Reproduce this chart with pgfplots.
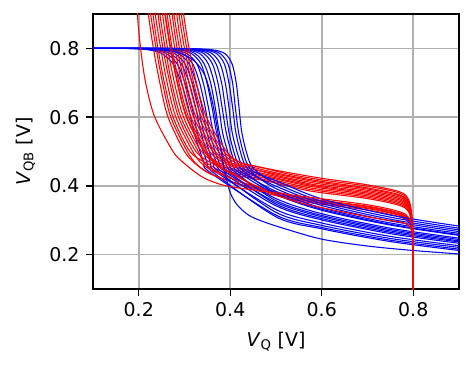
\documentclass[border=0pt]{standalone}
\usepackage{fontspec}
\setmainfont{DejaVu Sans}
\usepackage{pgfplots}
\pgfplotsset{compat=1.18}
\begin{document}
\fontsize{14.2}{17}\selectfont
\begin{tikzpicture}
\path[use as bounding box] (-69.75pt,-58.5pt) rectangle (285.75pt,216.75pt);
\begin{axis}[
  at={(0,0)}, anchor=south west,
  scale only axis, width=274.5pt, height=206.25pt,
  xmin=0.1, xmax=0.9, ymin=0.1, ymax=0.9,
  xtick={0.2,0.4,0.6,0.8}, ytick={0.2,0.4,0.6,0.8},
  xticklabels={0.2,0.4,0.6,0.8}, yticklabels={0.2,0.4,0.6,0.8},
  tick pos=left, tick align=outside, major tick length=5pt,
  grid=major, grid style={color=black!31, line width=1.2pt},
  axis line style={line width=1.1pt, black},
  every tick/.style={line width=1.1pt, black},
  xticklabel style={inner sep=0pt, anchor=north, yshift=-5pt},
  yticklabel style={inner sep=0pt, anchor=east, xshift=-5pt},
  xlabel={\textit{V}\textsubscript{Q} [V]},
  ylabel={\textit{V}\textsubscript{QB} [V]},
  xlabel style={at={(axis description cs:0.5,0)}, anchor=base, yshift=-43pt, inner sep=0pt},
  ylabel style={at={(axis description cs:-0.172,0.5)}, rotate=0, anchor=base, inner sep=0pt},
  bl/.style={blue, line width=0.8pt, smooth, tension=0.5},
  rd/.style={red, line width=0.8pt, smooth, tension=0.5},
]
% sample 1
\addplot[bl] coordinates {(0.1,0.8)(0.14,0.8)(0.18,0.7995)(0.22,0.796)(0.25,0.785)(0.275,0.755)(0.293,0.70)(0.308,0.63)(0.322,0.55)(0.342,0.47)(0.355,0.44)(0.5,0.315)(0.6,0.279)(0.75,0.242)(0.9,0.216)};
\addplot[rd] coordinates {(0.213,1.0)(0.221,0.9)(0.232,0.8)(0.246,0.7)(0.264,0.6)(0.300,0.5)(0.328,0.460)(0.363,0.431)(0.454,0.392)(0.557,0.358)(0.7,0.334)(0.77,0.314)(0.79,0.298)(0.797,0.267)(0.8,0.201)(0.8,0.05)};
% sample 2
\addplot[bl] coordinates {(0.1,0.8)(0.144,0.8)(0.188,0.7995)(0.230,0.796)(0.260,0.785)(0.284,0.755)(0.301,0.70)(0.316,0.63)(0.329,0.55)(0.349,0.47)(0.362,0.44)(0.5,0.31)(0.6,0.275)(0.75,0.238)(0.9,0.212)};
\addplot[rd] coordinates {(0.218,1.0)(0.226,0.9)(0.238,0.8)(0.252,0.7)(0.270,0.6)(0.306,0.5)(0.329,0.460)(0.364,0.431)(0.45,0.39)(0.555,0.355)(0.7,0.33)(0.77,0.31)(0.79,0.295)(0.797,0.265)(0.8,0.2)(0.8,0.05)};
% sample 3
\addplot[bl] coordinates {(0.1,0.8)(0.149,0.8)(0.197,0.7995)(0.240,0.796)(0.269,0.785)(0.293,0.755)(0.310,0.70)(0.324,0.63)(0.337,0.55)(0.356,0.47)(0.370,0.44)(0.5,0.331)(0.6,0.292)(0.75,0.253)(0.9,0.226)};
\addplot[rd] coordinates {(0.223,1.0)(0.231,0.9)(0.242,0.8)(0.256,0.7)(0.275,0.6)(0.312,0.5)(0.354,0.462)(0.392,0.437)(0.486,0.412)(0.575,0.385)(0.7,0.363)(0.77,0.343)(0.79,0.324)(0.797,0.285)(0.8,0.209)(0.8,0.05)};
% sample 4
\addplot[bl] coordinates {(0.1,0.8)(0.152,0.8)(0.204,0.7995)(0.248,0.796)(0.278,0.785)(0.301,0.755)(0.317,0.70)(0.330,0.63)(0.343,0.55)(0.362,0.47)(0.376,0.44)(0.5,0.323)(0.6,0.285)(0.75,0.247)(0.9,0.221)};
\addplot[rd] coordinates {(0.228,1.0)(0.236,0.9)(0.248,0.8)(0.262,0.7)(0.281,0.6)(0.318,0.5)(0.341,0.461)(0.378,0.434)(0.460,0.396)(0.560,0.363)(0.7,0.339)(0.77,0.319)(0.79,0.303)(0.797,0.270)(0.8,0.202)(0.8,0.05)};
% sample 5
\addplot[bl] coordinates {(0.1,0.8)(0.156,0.8)(0.212,0.7995)(0.258,0.796)(0.287,0.785)(0.310,0.755)(0.325,0.70)(0.338,0.63)(0.350,0.55)(0.369,0.47)(0.383,0.44)(0.5,0.342)(0.6,0.301)(0.75,0.261)(0.9,0.233)};
\addplot[rd] coordinates {(0.234,1.0)(0.242,0.9)(0.253,0.8)(0.268,0.7)(0.287,0.6)(0.325,0.5)(0.364,0.463)(0.402,0.440)(0.490,0.414)(0.578,0.389)(0.7,0.367)(0.77,0.347)(0.79,0.328)(0.797,0.288)(0.8,0.210)(0.8,0.05)};
% sample 6
\addplot[bl] coordinates {(0.1,0.8)(0.16,0.8)(0.220,0.7995)(0.266,0.796)(0.296,0.785)(0.318,0.755)(0.333,0.70)(0.345,0.63)(0.356,0.55)(0.375,0.47)(0.390,0.44)(0.5,0.352)(0.6,0.310)(0.75,0.269)(0.9,0.240)};
\addplot[rd] coordinates {(0.238,1.0)(0.246,0.9)(0.258,0.8)(0.272,0.7)(0.292,0.6)(0.330,0.5)(0.346,0.462)(0.383,0.435)(0.456,0.394)(0.559,0.360)(0.7,0.336)(0.77,0.316)(0.79,0.300)(0.797,0.269)(0.8,0.202)(0.8,0.05)};
% sample 7
\addplot[bl] coordinates {(0.1,0.8)(0.164,0.8)(0.228,0.7995)(0.276,0.796)(0.305,0.785)(0.327,0.755)(0.341,0.70)(0.352,0.63)(0.364,0.55)(0.382,0.47)(0.397,0.44)(0.5,0.347)(0.6,0.305)(0.75,0.265)(0.9,0.237)};
\addplot[rd] coordinates {(0.244,1.0)(0.252,0.9)(0.263,0.8)(0.278,0.7)(0.298,0.6)(0.337,0.5)(0.373,0.464)(0.413,0.442)(0.495,0.417)(0.580,0.393)(0.7,0.371)(0.77,0.351)(0.79,0.331)(0.797,0.290)(0.8,0.211)(0.8,0.05)};
% sample 8
\addplot[bl] coordinates {(0.1,0.8)(0.168,0.8)(0.236,0.7995)(0.286,0.796)(0.315,0.785)(0.336,0.755)(0.349,0.70)(0.360,0.63)(0.371,0.55)(0.389,0.47)(0.404,0.44)(0.5,0.363)(0.6,0.319)(0.75,0.277)(0.9,0.248)};
\addplot[rd] coordinates {(0.249,1.0)(0.257,0.9)(0.269,0.8)(0.284,0.7)(0.304,0.6)(0.343,0.5)(0.380,0.464)(0.420,0.444)(0.500,0.420)(0.583,0.397)(0.7,0.375)(0.77,0.355)(0.79,0.335)(0.797,0.293)(0.8,0.212)(0.8,0.05)};
% sample 9
\addplot[bl] coordinates {(0.1,0.8)(0.172,0.8)(0.244,0.7995)(0.294,0.796)(0.323,0.785)(0.343,0.755)(0.357,0.70)(0.367,0.63)(0.377,0.55)(0.395,0.47)(0.411,0.44)(0.5,0.357)(0.6,0.314)(0.75,0.273)(0.9,0.244)};
\addplot[rd] coordinates {(0.254,1.0)(0.262,0.9)(0.273,0.8)(0.288,0.7)(0.309,0.6)(0.349,0.5)(0.372,0.462)(0.405,0.437)(0.462,0.397)(0.562,0.365)(0.7,0.341)(0.77,0.321)(0.79,0.305)(0.797,0.272)(0.8,0.203)(0.8,0.05)};
% sample 10
\addplot[bl] coordinates {(0.1,0.8)(0.176,0.8)(0.252,0.7995)(0.304,0.796)(0.333,0.785)(0.352,0.755)(0.365,0.70)(0.375,0.63)(0.384,0.55)(0.402,0.47)(0.418,0.44)(0.5,0.375)(0.6,0.329)(0.75,0.286)(0.9,0.256)};
\addplot[rd] coordinates {(0.259,1.0)(0.267,0.9)(0.279,0.8)(0.294,0.7)(0.314,0.6)(0.355,0.5)(0.389,0.465)(0.430,0.446)(0.504,0.422)(0.585,0.400)(0.7,0.379)(0.77,0.359)(0.79,0.339)(0.797,0.295)(0.8,0.213)(0.8,0.05)};
% sample 11
\addplot[bl] coordinates {(0.1,0.8)(0.18,0.8)(0.260,0.7995)(0.314,0.796)(0.342,0.785)(0.361,0.755)(0.373,0.70)(0.382,0.63)(0.392,0.55)(0.409,0.47)(0.425,0.44)(0.5,0.384)(0.6,0.336)(0.75,0.292)(0.9,0.262)};
\addplot[rd] coordinates {(0.265,1.0)(0.273,0.9)(0.284,0.8)(0.300,0.7)(0.320,0.6)(0.362,0.5)(0.395,0.466)(0.437,0.447)(0.508,0.425)(0.587,0.403)(0.7,0.383)(0.77,0.363)(0.79,0.342)(0.797,0.297)(0.8,0.214)(0.8,0.05)};
% sample 12
\addplot[bl] coordinates {(0.1,0.8)(0.184,0.8)(0.268,0.7995)(0.322,0.796)(0.351,0.785)(0.369,0.755)(0.381,0.70)(0.389,0.63)(0.398,0.55)(0.415,0.47)(0.432,0.44)(0.5,0.378)(0.6,0.332)(0.75,0.288)(0.9,0.258)};
\addplot[rd] coordinates {(0.269,1.0)(0.277,0.9)(0.289,0.8)(0.304,0.7)(0.325,0.6)(0.367,0.5)(0.403,0.466)(0.446,0.450)(0.516,0.430)(0.592,0.411)(0.7,0.391)(0.77,0.371)(0.79,0.349)(0.797,0.302)(0.8,0.217)(0.8,0.05)};
% sample 13
\addplot[bl] coordinates {(0.1,0.8)(0.188,0.8)(0.276,0.7995)(0.332,0.796)(0.360,0.785)(0.378,0.755)(0.389,0.70)(0.397,0.63)(0.405,0.55)(0.422,0.47)(0.439,0.44)(0.5,0.399)(0.6,0.349)(0.75,0.303)(0.9,0.272)};
\addplot[rd] coordinates {(0.275,1.0)(0.283,0.9)(0.294,0.8)(0.310,0.7)(0.331,0.6)(0.374,0.5)(0.404,0.466)(0.447,0.450)(0.512,0.427)(0.590,0.407)(0.7,0.387)(0.77,0.367)(0.79,0.346)(0.797,0.300)(0.8,0.216)(0.8,0.05)};
% sample 14
\addplot[bl] coordinates {(0.1,0.8)(0.192,0.8)(0.284,0.7995)(0.342,0.796)(0.370,0.785)(0.387,0.755)(0.397,0.70)(0.405,0.63)(0.413,0.55)(0.429,0.47)(0.446,0.44)(0.5,0.392)(0.6,0.343)(0.75,0.298)(0.9,0.267)};
\addplot[rd] coordinates {(0.280,1.0)(0.288,0.9)(0.300,0.8)(0.316,0.7)(0.337,0.6)(0.380,0.5)(0.413,0.467)(0.456,0.452)(0.520,0.432)(0.595,0.414)(0.7,0.394)(0.77,0.374)(0.79,0.352)(0.797,0.305)(0.8,0.218)(0.8,0.05)};
% sample 15
\addplot[bl] coordinates {(0.1,0.8)(0.196,0.8)(0.292,0.7995)(0.350,0.796)(0.378,0.785)(0.395,0.755)(0.405,0.70)(0.411,0.63)(0.419,0.55)(0.435,0.47)(0.453,0.44)(0.5,0.415)(0.6,0.362)(0.75,0.315)(0.9,0.283)};
\addplot[rd] coordinates {(0.285,1.0)(0.293,0.9)(0.305,0.8)(0.320,0.7)(0.342,0.6)(0.386,0.5)(0.422,0.468)(0.466,0.454)(0.530,0.438)(0.600,0.422)(0.7,0.403)(0.77,0.383)(0.79,0.360)(0.797,0.310)(0.8,0.220)(0.8,0.05)};
% sample 16
\addplot[bl] coordinates {(0.1,0.8)(0.2,0.8)(0.300,0.7995)(0.360,0.796)(0.388,0.785)(0.404,0.755)(0.413,0.70)(0.419,0.63)(0.426,0.55)(0.442,0.47)(0.460,0.44)(0.5,0.407)(0.6,0.355)(0.75,0.309)(0.9,0.277)};
\addplot[rd] coordinates {(0.290,1.0)(0.298,0.9)(0.310,0.8)(0.326,0.7)(0.348,0.6)(0.392,0.5)(0.422,0.468)(0.467,0.454)(0.525,0.435)(0.597,0.418)(0.7,0.399)(0.77,0.379)(0.79,0.356)(0.797,0.307)(0.8,0.219)(0.8,0.05)};
% sample 17 (outliers)
\addplot[bl] coordinates {(0.1,0.8)(0.16,0.8)(0.22,0.799)(0.28,0.79)(0.32,0.765)(0.345,0.72)(0.36,0.65)(0.37,0.58)(0.38,0.50)(0.39,0.43)(0.40,0.38)(0.415,0.345)(0.44,0.315)(0.47,0.297)(0.52,0.275)(0.6,0.245)(0.7,0.225)(0.8,0.212)(0.9,0.202)};
\addplot[rd] coordinates {(0.195,1.0)(0.197,0.9)(0.204,0.8)(0.215,0.7)(0.235,0.6)(0.275,0.5)(0.30,0.465)(0.34,0.425)(0.385,0.402)(0.45,0.388)(0.555,0.37)(0.7,0.345)(0.77,0.325)(0.79,0.308)(0.797,0.275)(0.8,0.205)(0.8,0.05)};
% sample 18
\addplot[rd] coordinates {(0.25,1.0)(0.258,0.9)(0.27,0.8)(0.285,0.7)(0.305,0.6)(0.345,0.5)(0.37,0.46)(0.41,0.43)(0.48,0.385)(0.555,0.35)(0.7,0.31)(0.77,0.295)(0.79,0.285)(0.797,0.262)(0.8,0.2)(0.8,0.05)};
\end{axis}
\end{tikzpicture}
\end{document}
